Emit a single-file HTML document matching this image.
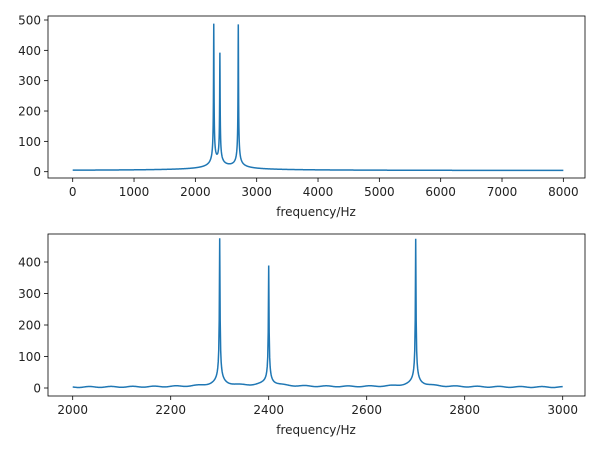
<!DOCTYPE html>
<html><head><meta charset="utf-8"><style>
html,body{margin:0;padding:0;background:#fff;}
svg{display:block;font-family:"DejaVu Sans","Liberation Sans",sans-serif;font-size:12px;fill:#222;}
</style></head><body>
<svg id="s" width="600" height="450" xmlns="http://www.w3.org/2000/svg">
<rect x="0" y="0" width="600" height="450" fill="#fff"/>
<path id="p1" fill="none" stroke="#1f77b4" stroke-width="1.5"/>
<path id="p2" fill="none" stroke="#1f77b4" stroke-width="1.5"/>
<rect x="48" y="16" width="537" height="162" fill="none" stroke="#000" stroke-width="0.8"/>
<rect x="48" y="234" width="537" height="162" fill="none" stroke="#000" stroke-width="0.8"/>
<g id="t" stroke="#000" stroke-width="0.8"></g>
<g id="l" fill="#222"></g>
<text x="316" y="216" text-anchor="middle">frequency/Hz</text>
<text x="316" y="434" text-anchor="middle">frequency/Hz</text>
</svg>
<script>
var NS="http://www.w3.org/2000/svg",t=document.getElementById('t'),l=document.getElementById('l');
function tick(x1,y1,x2,y2){var e=document.createElementNS(NS,'line');e.setAttribute('x1',x1);e.setAttribute('y1',y1);e.setAttribute('x2',x2);e.setAttribute('y2',y2);t.appendChild(e);}
function lab(x,y,s,a){var e=document.createElementNS(NS,'text');e.setAttribute('x',x);e.setAttribute('y',y);e.setAttribute('text-anchor',a);e.textContent=s;l.appendChild(e);}
function X1(f){return 72.7+f*0.06133;} function Y1(v){return 171.7-v*0.3034;}
for(var f=0;f<=8000;f+=1000){var x=X1(f);tick(x,178,x,182);lab(x,196,String(f),'middle');}
for(var v=0;v<=500;v+=100){var y=Y1(v);tick(44,y,48,y);lab(41,y+4.5,String(v),'end');}
function X2(f){return 72.7+(f-2000)*0.49;} function Y2(v){return 388-v*0.315;}
for(var f=2000;f<=3000;f+=200){var x=X2(f);tick(x,396,x,400);lab(x,414,String(f),'middle');}
for(var v=0;v<=400;v+=100){var y=Y2(v);tick(44,y,48,y);lab(41,y+4.5,String(v),'end');}
var P=[[2300,470],[2400,370],[2700,475]];
function m(f,g,b){var s=b;for(var i=0;i<3;i++){var d=f-P[i][0];s+=P[i][1]*g/Math.sqrt(d*d+g*g);}return s;}
var d="";for(var f=0;f<=8000;f+=2){var fy=m(f,3,3.5);d+=(f?"L":"M")+X1(f).toFixed(2)+","+Y1(fy).toFixed(2);}
document.getElementById('p1').setAttribute('d',d);
var P2=[[2300,470],[2400,385],[2700,470]];
d="";for(var f=2000;f<=3000;f+=1){var s=1.5+1.5*Math.sin(f/7);for(var i=0;i<3;i++){var dd=f-P2[i][0];s+=P2[i][1]*0.5/Math.sqrt(dd*dd+0.25);}
 d+=(f>2000?"L":"M")+X2(f).toFixed(2)+","+Y2(s).toFixed(2);}
document.getElementById('p2').setAttribute('d',d);
</script>
</body></html>
